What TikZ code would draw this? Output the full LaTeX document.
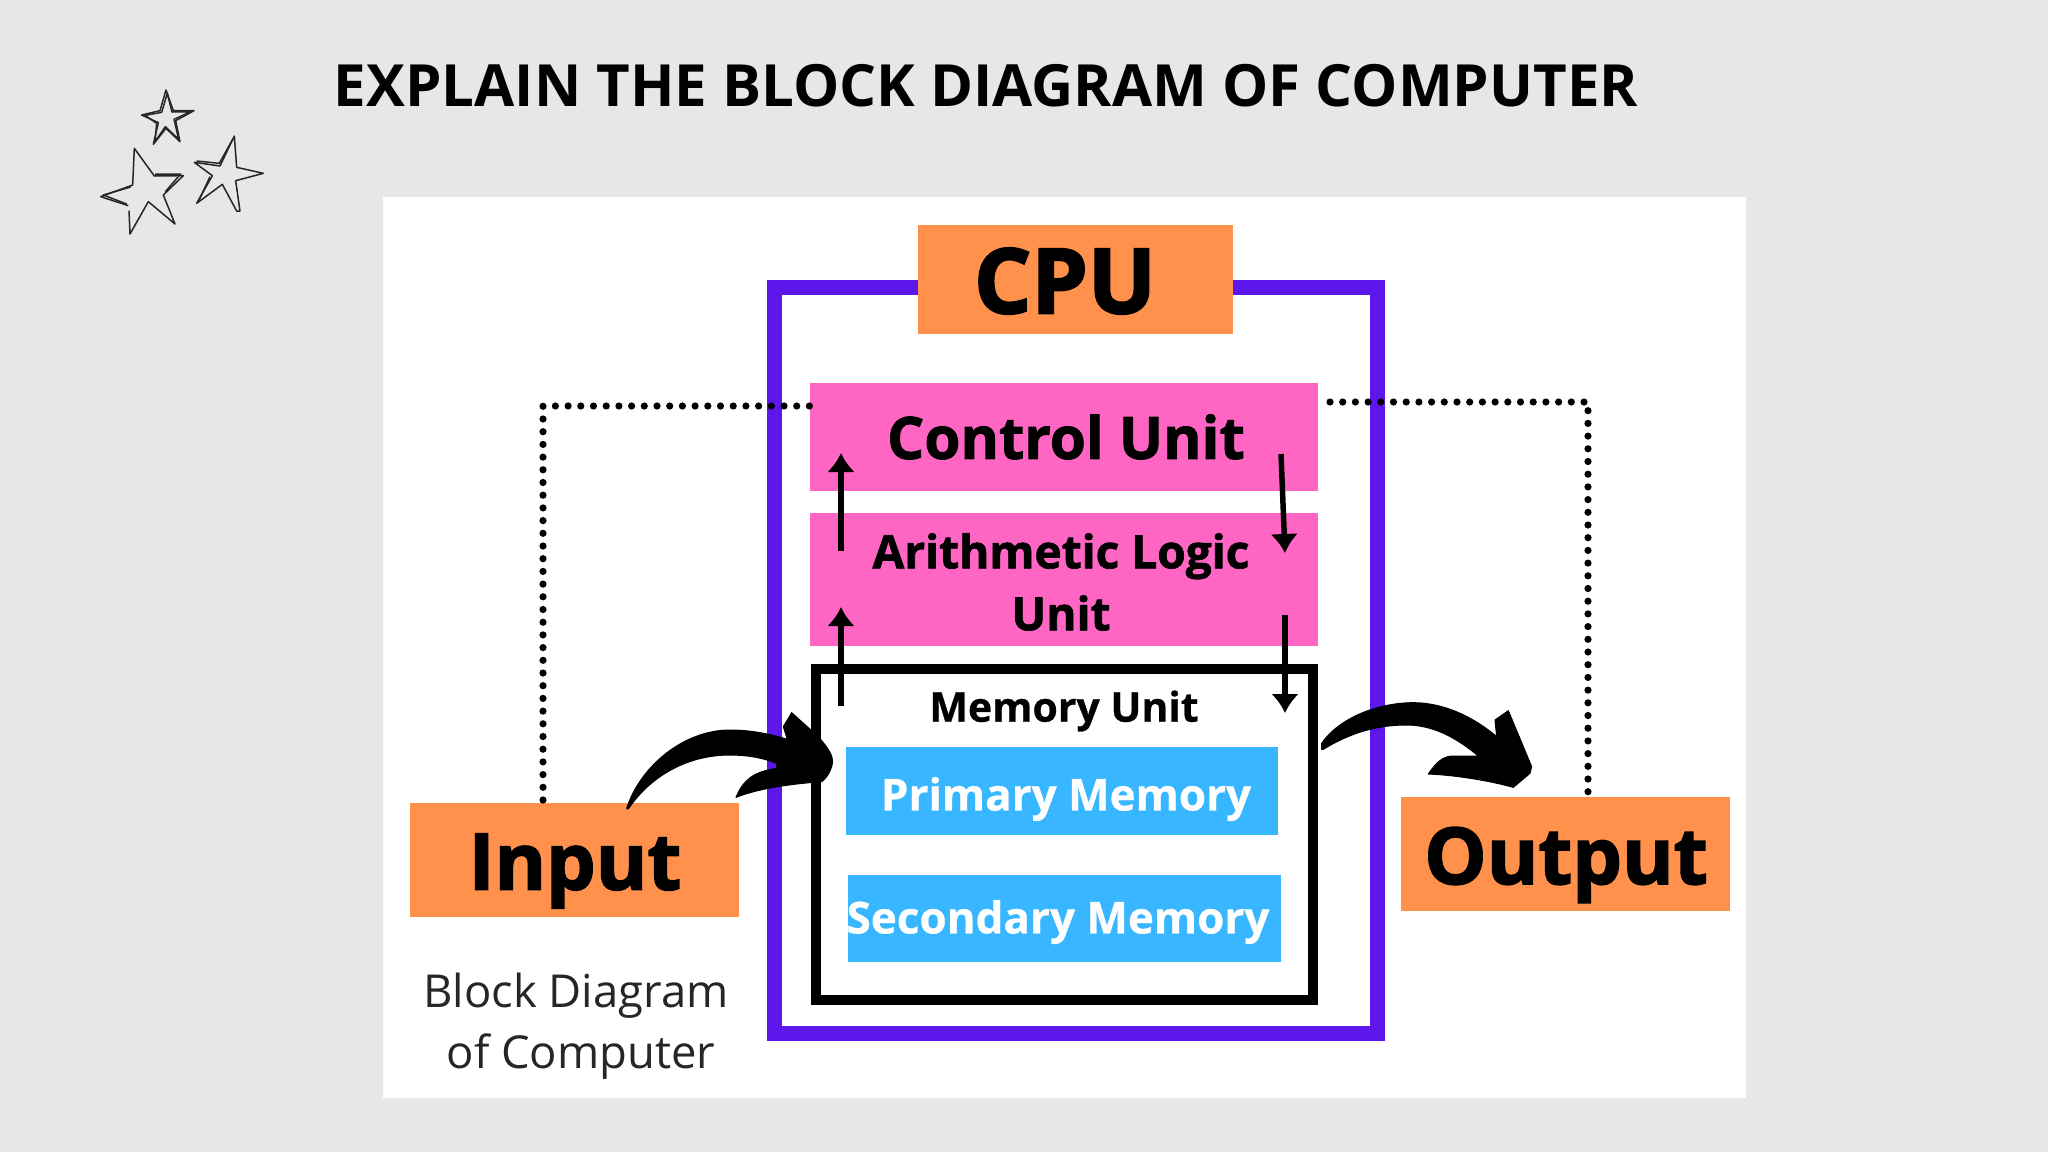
\documentclass[tikz,border=0pt]{standalone}
\usepackage{fontspec}
\setmainfont{Open Sans}
\usetikzlibrary{arrows.meta}
\definecolor{bgc}{HTML}{E7E7E7}
\definecolor{orangec}{HTML}{FF914D}
\definecolor{pinkc}{HTML}{FF66C4}
\definecolor{bluec}{HTML}{38B6FF}
\definecolor{purplec}{HTML}{5E17EB}
\tikzset{
  boxn/.style={inner sep=0pt,outer sep=0pt,draw=none},
  frame/.style={boxn,draw=#1,fill=none},
  dots/.style={black,line width=7.2pt,line cap=round,dash pattern=on 0pt off 12.7pt},
  smallarrow/.style={black,line width=5.5pt,-{Latex[length=19pt,width=28pt]}},
  bigarrow/.style={fill=black,draw=black,line width=1pt,line join=round},
  starline/.style={draw=black!85,line width=1.5pt,line join=round,fill=none},
  bigtxt/.style={inner sep=0pt,font=\bfseries\addfontfeature{FakeBold=2}\fontsize{78.5}{80}\selectfont},
  midtxt/.style={inner sep=0pt,font=\bfseries\addfontfeature{FakeBold=1.5}\fontsize{58.5}{60}\selectfont},
  alutxt/.style={inner sep=0pt,align=center,font=\bfseries\addfontfeature{FakeBold=1.5}\fontsize{46}{62}\selectfont},
  memtxt/.style={inner sep=0pt,font=\bfseries\addfontfeature{FakeBold=0.6}\fontsize{41}{50}\selectfont},
  bluetxt/.style={inner sep=0pt,text=white,font=\bfseries\addfontfeature{FakeBold=0.6}\fontsize{44}{50}\selectfont},
}
\begin{document}
\begin{tikzpicture}[x=1pt,y=-1pt]
\useasboundingbox (0,0) rectangle (2048,1152);
\fill[bgc] (0,0) rectangle (2048,1152);
\node[inner sep=0pt,font=\bfseries\fontsize{58.2}{60}\selectfont] (title) at (986,86) {EXPLAIN THE BLOCK DIAGRAM OF COMPUTER};
% stars
\begin{scope}[shift={(60,60)},scale=1/3]
\draw[starline] (318,90)--(340,152)--(402,152)--(347,182)--(360,245)--(318,205)--(280,253)--(295,188)--(245,165)--(300,152)--cycle;
\draw[starline] (322,100)--(336,156)--(392,155)--(342,178)--(356,238)--(316,200)--(285,245)--(290,190)--(255,166)--(305,157)--cycle;
\draw[starline] (205,437)--(122,410)--(218,375)--(223,265)--(283,348)--(370,347)--(310,405)--(345,492)--(265,425)--(210,522)--(207,452);
\draw[starline] (200,432)--(130,405)--(212,381);
\draw[starline] (285,342)--(362,342)--(316,395);
\draw[starline] (523,228)--(530,322)--(610,340)--(527,362)--(540,453)--(530,453)--(487,373)--(410,430)--(457,347)--(403,307)--(480,318)--cycle;
\draw[starline] (518,238)--(478,310)--(410,303);
\draw[starline] (415,425)--(450,350);
\end{scope}
% panel
\node[boxn,fill=white,minimum width=1363pt,minimum height=901pt] (panel) at (1064.5,647.5) {};
\node[frame=purplec,line width=15pt,minimum width=602.5pt,minimum height=746pt] (cpuframe) at (1075.75,660) {};
\node[boxn,fill=orangec,minimum width=315pt,minimum height=109pt] (cpu) at (1075.5,279.5) {};
\node[boxn,fill=pinkc,minimum width=508pt,minimum height=108pt] (cu) at (1064,437) {};
\node[boxn,fill=pinkc,minimum width=508pt,minimum height=133pt] (alu) at (1064,579.5) {};
\node[frame=black,line width=10.5pt,minimum width=497pt,minimum height=331pt] (mem) at (1064.5,834.5) {};
\node[boxn,fill=bluec,minimum width=432pt,minimum height=88pt] (prim) at (1062,791) {};
\node[boxn,fill=bluec,minimum width=433pt,minimum height=87pt] (sec) at (1064.5,918.5) {};
\node[boxn,fill=orangec,minimum width=329pt,minimum height=114pt] (input) at (574.5,860) {};
\node[boxn,fill=orangec,minimum width=329pt,minimum height=114pt] (output) at (1565.5,854) {};
% texts
\node[inner sep=0pt,font=\bfseries\addfontfeature{FakeBold=2.5}\fontsize{90}{90}\selectfont] (tcpu) at (1065,281) {CPU};
\node[midtxt] (tcu) at (1066,437) {Control Unit};
\node[alutxt] (talu) at (1061,582) {Arithmetic Logic\\Unit};
\node[memtxt] (tmem) at (1064,711) {Memory Unit};
\node[bluetxt] (tprim) at (1066,799) {Primary Memory};
\node[bluetxt] (tsec) at (1058,922) {Secondary Memory};
\node[bigtxt] (tin) at (575,871) {Input};
\node[bigtxt] (tout) at (1566,865) {Output};
\node[inner sep=0pt,text=black!85,font=\fontsize{45.4}{61}\selectfont,align=center] (cap) at (576,1026) {Block Diagram\\\hspace*{10pt}of Computer};
% dotted
\coordinate (dl1) at (543,800);
\coordinate (dl2) at (543,406);
\coordinate (dl3) at (810,406);
\coordinate (dr1) at (1330,402);
\coordinate (dr2) at (1588,402);
\coordinate (dr3) at (1588,795);
\draw[dots] (dl1)--(dl2)--(dl3);
\draw[dots] (dr1)--(dr2)--(dr3);
% small arrows
\coordinate (a1s) at (841,551); \coordinate (a1e) at (841,453);
\coordinate (a2s) at (841,706); \coordinate (a2e) at (841,607);
\coordinate (a3s) at (1281,454); \coordinate (a3e) at (1285,553);
\coordinate (a4s) at (1285,615); \coordinate (a4e) at (1285,713);
\draw[smallarrow] (a1s)--(a1e);
\draw[smallarrow] (a2s)--(a2e);
\draw[smallarrow] (a3s)--(a3e);
\draw[smallarrow] (a4s)--(a4e);
% big arrows
\begin{scope}[shift={(500,620)},scale=1/3]
\path[bigarrow] (380,565) .. controls (420,440) and (550,330) .. (690,330) .. controls (760,330) and (820,345) .. (862,358) -- (850,320) -- (875,278) -- (955,350) .. controls (985,385) and (998,405) .. (998,425) .. controls (995,450) and (980,475) .. (965,485) .. controls (900,490) and (790,500) .. (708,532) .. controls (730,480) and (760,455) .. (830,445) -- (830,430) .. controls (780,410) and (730,405) .. (690,405) .. controls (560,405) and (450,470) .. (385,567) -- cycle;
\end{scope}
\begin{scope}[shift={(1240,620)},scale=1/3]
\path[bigarrow] (245,388) -- (245,370) .. controls (300,290) and (420,248) .. (520,248) .. controls (610,248) and (700,290) .. (770,350) -- (765,300) -- (805,272) -- (875,440) -- (870,460) -- (820,502) .. controls (740,480) and (640,465) .. (565,462) .. controls (590,425) and (610,408) .. (640,408) -- (715,408) .. controls (640,345) and (570,315) .. (500,315) .. controls (400,315) and (320,345) .. (250,388) -- cycle;
\end{scope}
\end{tikzpicture}
\end{document}
